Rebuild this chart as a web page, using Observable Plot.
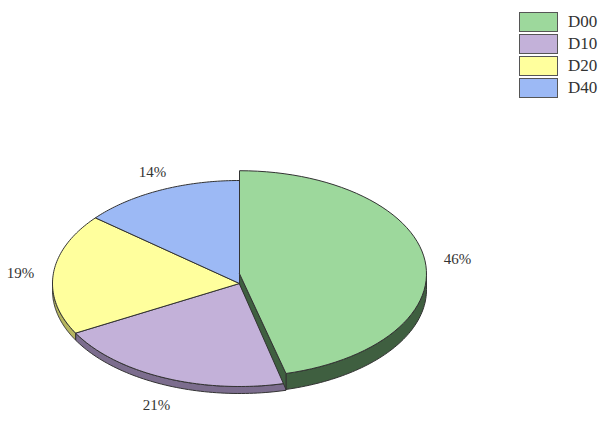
<!DOCTYPE html>
<html>
<head>
<meta charset="utf-8">
<script src="https://cdn.jsdelivr.net/npm/d3@7"></script>
<script src="https://cdn.jsdelivr.net/npm/@observablehq/plot@0.6"></script>
<style>
html,body{margin:0;padding:0;background:#fff}
#wrap{position:relative;width:605px;height:422px;overflow:hidden}
#legend{position:absolute;left:519px;top:11px;font:17px "Liberation Serif",serif;color:#333}
.row{display:flex;align-items:center;height:22px}
.sw{width:37px;height:18px;border:1.5px solid #555;margin-right:10px;box-sizing:content-box}
</style>
</head>
<body>
<div id="wrap"><div id="legend"></div></div>
<script>
const categories = ["D00", "D10", "D20", "D40"];
const shares = [46, 21, 19, 14];
const topColors = ["#9dd89c", "#c3b1d9", "#ffff9d", "#9cb9f5"];
const sideColors = ["#3f5f40", "#7c6d8e", "#b5b55f", "#5f7299"];

// layout: pie radius is the unit of both axes; tilt comes from the scale ranges
const W = 605, H = 422, cx = 239, cy = 283, rx = 187, ry = 103;
const explodeY = [0.095, 0, 0, 0];      // in radius units
const depth = [0.155, 0.068, 0.068, 0.068];
const labelPull = [[1.175, 1.15], [1.118, 1.29], [1.176, 1.1], [1.092, 1.19]];

const total = d3.sum(shares);
let acc = 0;
const slices = categories.map((name, i) => {
  const a0 = acc / total * 2 * Math.PI;
  acc += shares[i];
  const a1 = acc / total * 2 * Math.PI;
  return {name, i, a0, a1, oy: explodeY[i], d: depth[i]};
});
const at = (s, a, r = 1) => ({x: Math.sin(a) * r, y: Math.cos(a) * r + s.oy});
const arcPts = (s) => d3.range(0, 61).map(k => at(s, s.a0 + (s.a1 - s.a0) * k / 60));

function topFace(s) {
  const c = {x: 0, y: s.oy};
  return [c, ...arcPts(s), c].map(p => ({...p, key: "t" + s.i, c: topColors[s.i]}));
}
function rimFace(s) {
  // the outer wall exists only where the rim faces the viewer (lower half)
  const lo = Math.max(s.a0, Math.PI / 2), hi = Math.min(s.a1, 3 * Math.PI / 2);
  if (hi <= lo) return [];
  const pts = d3.range(0, 61).map(k => at(s, lo + (hi - lo) * k / 60));
  const low = pts.map(p => ({x: p.x, y: p.y - s.d})).reverse();
  return [...pts, ...low, pts[0]].map(p => ({...p, key: "r" + s.i, c: sideColors[s.i]}));
}
function cutFace(s) {
  // the green slice's cut edge, seen along its left side
  const c = {x: 0, y: s.oy}, e = at(s, s.a1);
  return [c, e, {x: e.x, y: e.y - s.d}, {x: 0, y: s.oy - s.d * 0.65}, c]
    .map(p => ({...p, key: "c" + s.i, c: sideColors[s.i]}));
}
const faces = [
  ...slices.slice(1).flatMap(rimFace),
  ...slices.slice(1).flatMap(topFace),
  ...rimFace(slices[0]),
  ...cutFace(slices[0]),
  ...topFace(slices[0])
];
const labels = slices.map((s, i) => {
  const m = (s.a0 + s.a1) / 2;
  return {
    x: Math.sin(m) * labelPull[i][0],
    y: Math.cos(m) * labelPull[i][1] + s.oy,
    text: shares[i] + "%"
  };
});

const chart = Plot.plot({
  width: W, height: H,
  margin: 0,
  style: {background: "#fff"},
  x: {domain: [-cx / rx, (W - cx) / rx], range: [0, W], axis: null},
  y: {domain: [(cy - H) / ry, cy / ry], range: [H, 0], axis: null},
  marks: [
    Plot.line(faces, {
      x: "x", y: "y", z: "key", fill: "c", stroke: "#333",
      strokeWidth: 1, curve: "linear", strokeLinejoin: "round"
    }),
    Plot.text(labels, {
      x: "x", y: "y", text: "text", fill: "#333", fontSize: 15,
      fontFamily: "Liberation Serif, serif"
    })
  ]
});
document.getElementById("wrap").prepend(chart);

const legend = d3.select("#legend");
categories.forEach((c, i) => {
  const r = legend.append("div").attr("class", "row");
  r.append("div").attr("class", "sw").style("background", topColors[i]);
  r.append("span").text(c);
});
</script>
</body>
</html>
